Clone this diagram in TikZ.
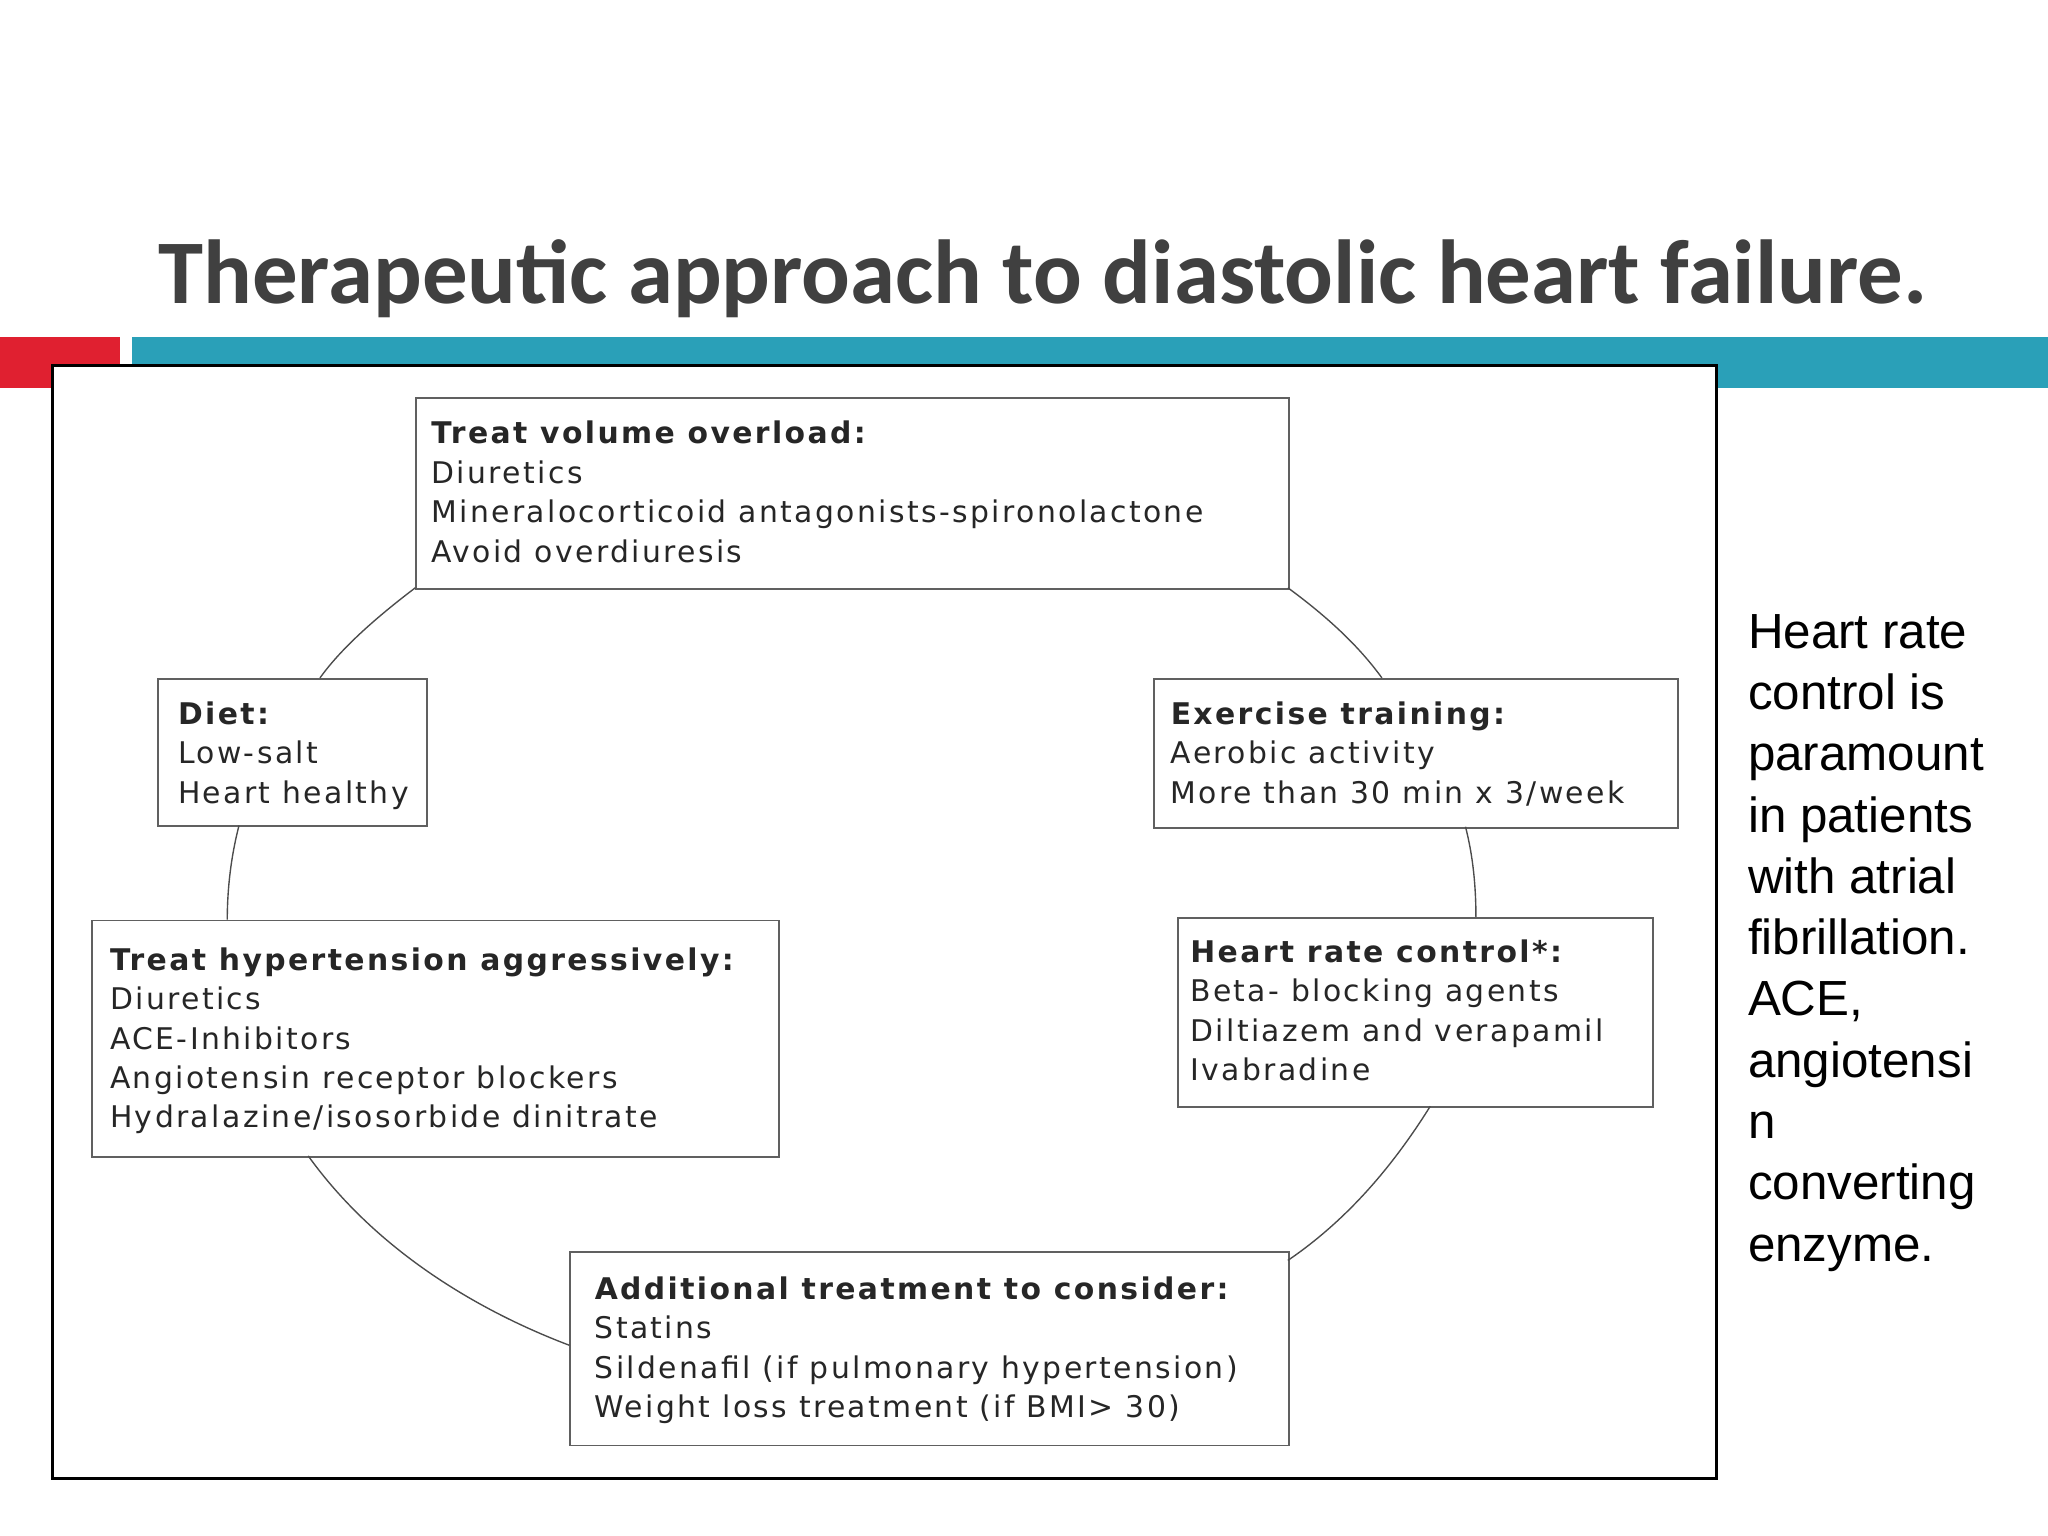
\documentclass[tikz,border=0pt]{standalone}
\usepackage{fontspec}
\setmainfont{DejaVu Sans}[LetterSpace=8]
\newfontfamily\titlefont{Carlito}
\newfontfamily\arialfont{Liberation Sans}
\usetikzlibrary{calc}
\definecolor{teal}{HTML}{2AA0B8}
\definecolor{redbar}{HTML}{E02030}
\definecolor{titlegray}{HTML}{404040}
\definecolor{boxline}{HTML}{606060}
\begin{document}
\begin{tikzpicture}[x=0.02cm,y=-0.02cm,
  box/.style={draw=boxline,line width=0.8pt,fill=white,anchor=north west,inner sep=0pt},
  txt/.style={anchor=north west,inner sep=0pt,align=left,font=\fontsize{13}{17.2}\selectfont,text=black!85},
  link/.style={draw=black!70,line width=0.6pt}]
\useasboundingbox[fill=white] (0,0) rectangle (1568,1176);
\fill[redbar] (0,258) rectangle (92,297);
\fill[teal] (101,258) rectangle (1568,297);
\node[anchor=base west,inner sep=0pt,text=titlegray,font=\titlefont\bfseries\fontsize{39.6}{44}\selectfont] (title) at (121,232) {Therapeutic approach to diastolic heart failure.};
\draw[fill=white,line width=1.2pt] (40,280) rectangle (1314,1132);
% boxes
\node[box,minimum width=13.36cm,minimum height=2.92cm] (vol) at (318,304) {};
\node[box,minimum width=4.12cm,minimum height=2.26cm] (diet) at (120,519) {};
\node[box,minimum width=8.02cm,minimum height=2.28cm] (ex) at (883,519) {};
\node[box,minimum width=10.52cm,minimum height=3.62cm] (hyp) at (70,704) {};
\node[box,minimum width=7.28cm,minimum height=2.9cm] (hr) at (901,702) {};
\node[box,minimum width=11.0cm,minimum height=2.96cm] (add) at (436,958) {};
% texts
\node[txt] (tvol) at (330,322) {\textbf{Treat volume overload:}\\Diuretics\\Mineralocorticoid antagonists-spironolactone\\Avoid overdiuresis};
\node[txt] (tdiet) at (136,537) {\textbf{Diet:}\\Low-salt\\Heart healthy};
\node[txt] (tex) at (896,537) {\textbf{Exercise training:}\\Aerobic activity\\More than 30 min x 3/week};
\node[txt] (thyp) at (84,725) {\textbf{Treat hypertension aggressively:}\\Diuretics\\ACE-Inhibitors\\Angiotensin receptor blockers\\Hydralazine/isosorbide dinitrate};
\node[txt] (thr) at (911,719) {\textbf{Heart rate control*:}\\Beta- blocking agents\\Diltiazem and verapamil\\Ivabradine};
\node[txt] (tadd) at (455,977) {\textbf{Additional treatment to consider:}\\Statins\\Sildenafil (if pulmonary hypertension)\\Weight loss treatment (if BMI> 30)};
% connectors
\coordinate (a1) at (318,450); \coordinate (a2) at (245,519);
\coordinate (b1) at (986,450); \coordinate (b2) at (1058,519);
\coordinate (c1) at (183,632); \coordinate (c2) at (174,704);
\coordinate (d1) at (1122,633); \coordinate (d2) at (1130,702);
\coordinate (e1) at (236,885); \coordinate (e2) at (436,1030);
\coordinate (f1) at (1095,847); \coordinate (f2) at (986,965);
\draw[link] (a1) .. controls (285,475) and (260,498) .. (a2);
\draw[link] (b1) .. controls (1020,475) and (1042,497) .. (b2);
\draw[link] (c1) .. controls (177,655) and (174,680) .. (c2);
\draw[link] (d1) .. controls (1128,656) and (1130,680) .. (d2);
\draw[link] (e1) .. controls (290,960) and (370,1005) .. (e2);
\draw[link] (f1) .. controls (1065,895) and (1030,935) .. (f2);
% side text
\node[anchor=north west,inner sep=0pt,align=left,font=\arialfont\fontsize{21.5}{26.7}\selectfont] (side) at (1338,470) {Heart rate\\control is\\paramount\\in patients\\with atrial\\fibrillation.\\ACE,\\angiotensi\\n\\converting\\enzyme.};
\end{tikzpicture}
\end{document}
